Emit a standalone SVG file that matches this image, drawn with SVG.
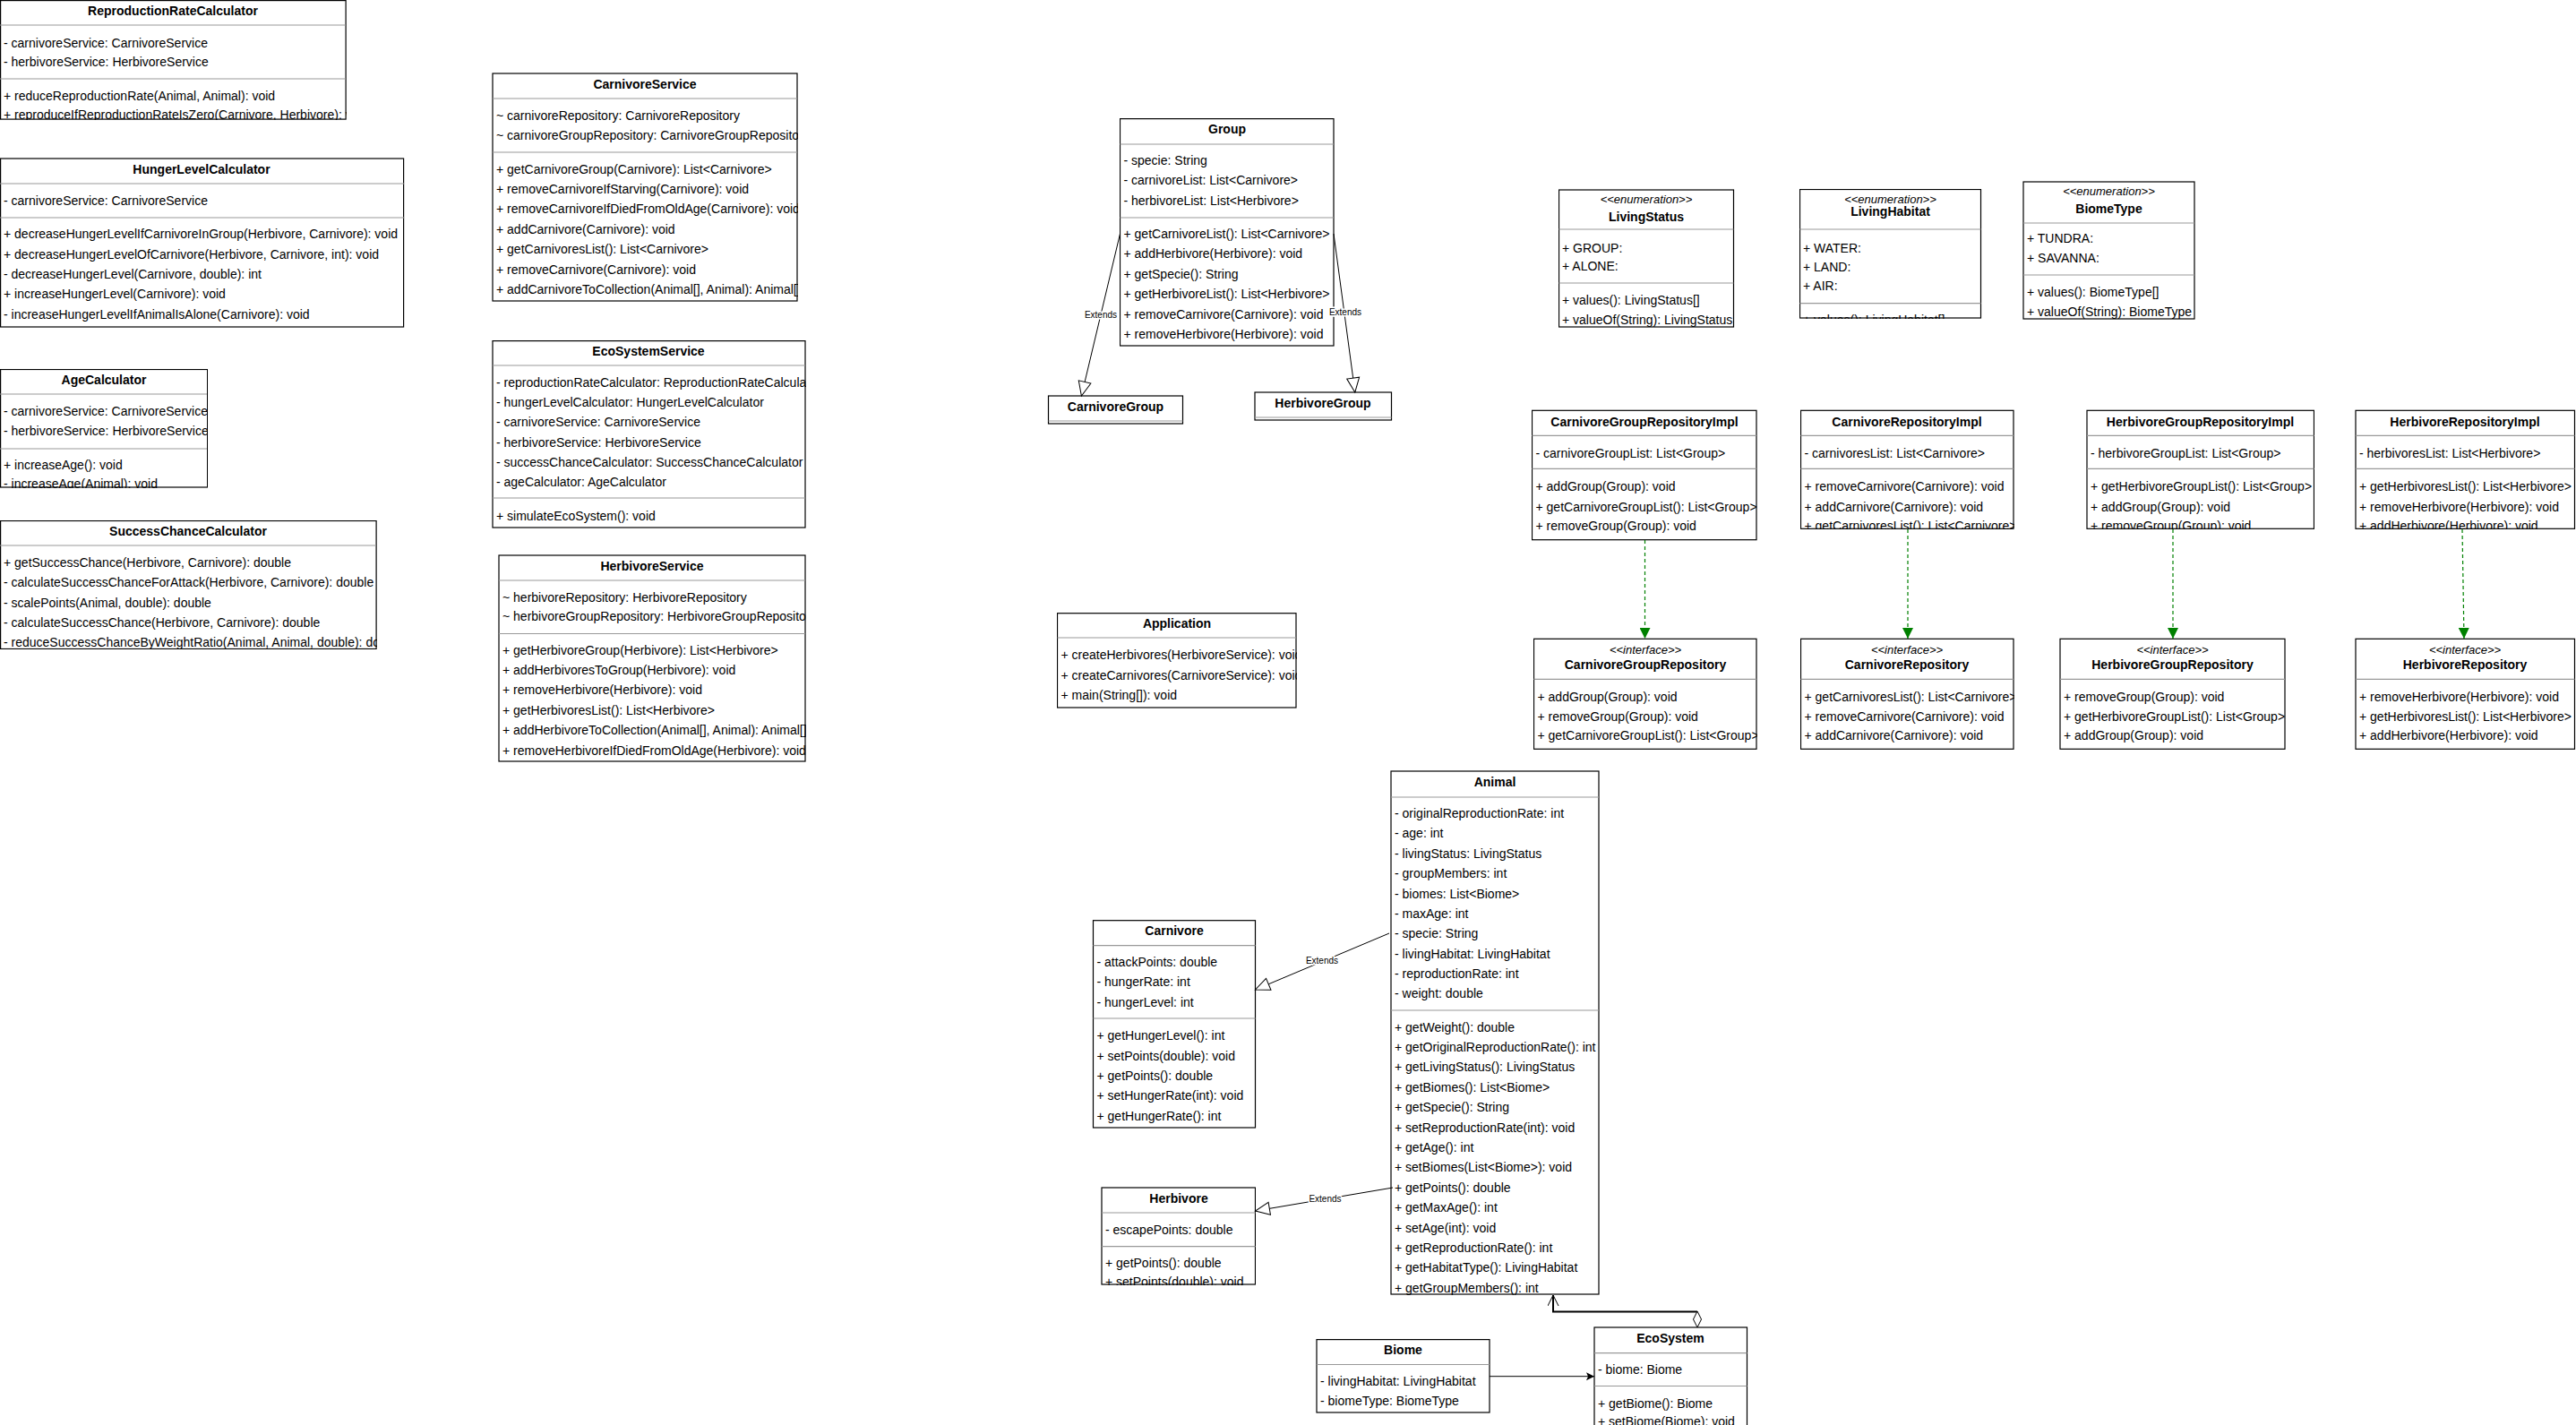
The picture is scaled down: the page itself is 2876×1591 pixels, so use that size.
<svg xmlns="http://www.w3.org/2000/svg" width="2876" height="1591" viewBox="0 0 2876 1591">
<style>
.b{fill:#fff;stroke:#000;stroke-width:1.2}
.d{stroke:#999;stroke-width:1.2}
text{font-family:"Liberation Sans",Arial,sans-serif;font-size:14px;fill:#000}
.h{font-weight:bold;text-anchor:middle}
.s{font-style:italic;text-anchor:middle;font-size:13px}
.c{stroke:#000;stroke-width:1;fill:none}
.g{stroke:#008000;stroke-width:1.2;stroke-dasharray:4 3;fill:none}
.l{font-size:10px;text-anchor:middle;stroke:#fff;stroke-width:3;paint-order:stroke}
</style>
<defs>
<marker id="tri" markerUnits="userSpaceOnUse" markerWidth="20" markerHeight="18" refX="17" refY="8" orient="auto"><path d="M1,1 L17,8 L1,15 z" fill="#fff" stroke="#000"/></marker>
<marker id="grn" markerUnits="userSpaceOnUse" markerWidth="14" markerHeight="12" refX="12" refY="6" orient="auto"><path d="M0,0 L12,6 L0,12 z" fill="#008000"/></marker>
<marker id="blk" markerUnits="userSpaceOnUse" markerWidth="10" markerHeight="10" refX="9" refY="4.5" orient="auto"><path d="M0,0 L9,4.5 L0,9 L2,4.5 z" fill="#000"/></marker>
<marker id="opn" markerUnits="userSpaceOnUse" markerWidth="14" markerHeight="14" refX="12" refY="6" orient="auto"><path d="M0,0 L12,6 L0,12" fill="none" stroke="#000"/></marker>
<clipPath id="k1"><rect x="0" y="0" width="387" height="134"/></clipPath>
<clipPath id="k2"><rect x="0" y="176" width="452" height="190"/></clipPath>
<clipPath id="k3"><rect x="0" y="412" width="232" height="133"/></clipPath>
<clipPath id="k4"><rect x="0" y="581" width="421" height="144"/></clipPath>
<clipPath id="k5"><rect x="549" y="81" width="342" height="256"/></clipPath>
<clipPath id="k6"><rect x="549" y="380" width="351" height="210"/></clipPath>
<clipPath id="k7"><rect x="556" y="619" width="344" height="232"/></clipPath>
<clipPath id="k8"><rect x="1180" y="684" width="268" height="107"/></clipPath>
<clipPath id="k9"><rect x="1740" y="211" width="197" height="155"/></clipPath>
<clipPath id="k10"><rect x="2009" y="211" width="204" height="145"/></clipPath>
<clipPath id="k11"><rect x="2258" y="202" width="194" height="155"/></clipPath>
<clipPath id="k12"><rect x="1710" y="457" width="252" height="147"/></clipPath>
<clipPath id="k13"><rect x="2010" y="457" width="239" height="134"/></clipPath>
<clipPath id="k14"><rect x="2329" y="457" width="255" height="134"/></clipPath>
<clipPath id="k15"><rect x="2629" y="457" width="247" height="134"/></clipPath>
<clipPath id="k16"><rect x="1712" y="712" width="250" height="125"/></clipPath>
<clipPath id="k17"><rect x="2010" y="712" width="239" height="125"/></clipPath>
<clipPath id="k18"><rect x="2299" y="712" width="253" height="125"/></clipPath>
<clipPath id="k19"><rect x="2629" y="712" width="247" height="125"/></clipPath>
<clipPath id="k20"><rect x="1552" y="860" width="234" height="586"/></clipPath>
<clipPath id="k21"><rect x="1229" y="1325" width="173" height="110"/></clipPath>
<clipPath id="k22"><rect x="1779" y="1481" width="173" height="120"/></clipPath>
<clipPath id="k23"><rect x="1219" y="1027" width="184" height="233"/></clipPath>
<clipPath id="k24"><rect x="1250" y="132" width="240" height="255"/></clipPath>
<clipPath id="k25"><rect x="1469" y="1495" width="195" height="83"/></clipPath>
</defs>

<g id="ReproductionRateCalculator" clip-path="url(#k1)">
<rect class="b" x="0.6" y="0.6" width="385.5" height="132.5"/>
<text class="h" x="193" y="17">ReproductionRateCalculator</text>
<line class="d" x1="0" y1="28" x2="386" y2="28"/>
<text x="4" y="52.5">- carnivoreService: CarnivoreService</text>
<text x="4" y="74">- herbivoreService: HerbivoreService</text>
<line class="d" x1="0" y1="88" x2="386" y2="88"/>
<text x="4" y="112">+ reduceReproductionRate(Animal, Animal): void</text>
<text x="4" y="133">+ reproduceIfReproductionRateIsZero(Carnivore, Herbivore): void</text>
</g>

<g id="HungerLevelCalculator" clip-path="url(#k2)">
<rect class="b" x="0.6" y="177" width="450" height="188"/>
<text class="h" x="225" y="194">HungerLevelCalculator</text>
<line class="d" x1="0" y1="205" x2="451" y2="205"/>
<text x="4" y="229">- carnivoreService: CarnivoreService</text>
<line class="d" x1="0" y1="243" x2="451" y2="243"/>
<text x="4" y="266">+ decreaseHungerLevelIfCarnivoreInGroup(Herbivore, Carnivore): void</text>
<text x="4" y="289">+ decreaseHungerLevelOfCarnivore(Herbivore, Carnivore, int): void</text>
<text x="4" y="311">- decreaseHungerLevel(Carnivore, double): int</text>
<text x="4" y="333">+ increaseHungerLevel(Carnivore): void</text>
<text x="4" y="356">- increaseHungerLevelIfAnimalIsAlone(Carnivore): void</text>
</g>

<g id="AgeCalculator" clip-path="url(#k3)">
<rect class="b" x="0.6" y="412.5" width="231" height="131.5"/>
<text class="h" x="116" y="428.5">AgeCalculator</text>
<line class="d" x1="0" y1="440" x2="231" y2="440"/>
<text x="4" y="464">- carnivoreService: CarnivoreService</text>
<text x="4" y="486">- herbivoreService: HerbivoreService</text>
<line class="d" x1="0" y1="501" x2="231" y2="501"/>
<text x="4" y="524">+ increaseAge(): void</text>
<text x="4" y="545">- increaseAge(Animal): void</text>
</g>

<g id="SuccessChanceCalculator" clip-path="url(#k4)">
<rect class="b" x="0.6" y="581.5" width="419.5" height="143"/>
<text class="h" x="210" y="597.5">SuccessChanceCalculator</text>
<line class="d" x1="0" y1="609" x2="420" y2="609"/>
<text x="4" y="633">+ getSuccessChance(Herbivore, Carnivore): double</text>
<text x="4" y="655">- calculateSuccessChanceForAttack(Herbivore, Carnivore): double</text>
<text x="4" y="678">- scalePoints(Animal, double): double</text>
<text x="4" y="700">- calculateSuccessChance(Herbivore, Carnivore): double</text>
<text x="4" y="722">- reduceSuccessChanceByWeightRatio(Animal, Animal, double): double</text>
</g>

<g id="CarnivoreService" clip-path="url(#k5)">
<rect class="b" x="550" y="82" width="340" height="254"/>
<text class="h" x="720" y="98.5">CarnivoreService</text>
<line class="d" x1="550" y1="110" x2="890" y2="110"/>
<text x="554" y="134">~ carnivoreRepository: CarnivoreRepository</text>
<text x="554" y="156">~ carnivoreGroupRepository: CarnivoreGroupRepository</text>
<line class="d" x1="550" y1="170" x2="890" y2="170"/>
<text x="554" y="194">+ getCarnivoreGroup(Carnivore): List&lt;Carnivore&gt;</text>
<text x="554" y="216">+ removeCarnivoreIfStarving(Carnivore): void</text>
<text x="554" y="238">+ removeCarnivoreIfDiedFromOldAge(Carnivore): void</text>
<text x="554" y="261">+ addCarnivore(Carnivore): void</text>
<text x="554" y="283">+ getCarnivoresList(): List&lt;Carnivore&gt;</text>
<text x="554" y="306">+ removeCarnivore(Carnivore): void</text>
<text x="554" y="328">+ addCarnivoreToCollection(Animal[], Animal): Animal[]</text>
</g>

<g id="EcoSystemService" clip-path="url(#k6)">
<rect class="b" x="550" y="380.6" width="349" height="208.4"/>
<text class="h" x="724" y="396.5">EcoSystemService</text>
<line class="d" x1="550" y1="408" x2="899" y2="408"/>
<text x="554" y="432">- reproductionRateCalculator: ReproductionRateCalculator</text>
<text x="554" y="454">- hungerLevelCalculator: HungerLevelCalculator</text>
<text x="554" y="476">- carnivoreService: CarnivoreService</text>
<text x="554" y="499">- herbivoreService: HerbivoreService</text>
<text x="554" y="521">- successChanceCalculator: SuccessChanceCalculator</text>
<text x="554" y="543">- ageCalculator: AgeCalculator</text>
<line class="d" x1="550" y1="556" x2="899" y2="556"/>
<text x="554" y="580.5">+ simulateEcoSystem(): void</text>
</g>

<g id="HerbivoreService" clip-path="url(#k7)">
<rect class="b" x="557" y="620" width="342" height="230"/>
<text class="h" x="728" y="636.5">HerbivoreService</text>
<line class="d" x1="557" y1="648" x2="899" y2="648"/>
<text x="561" y="672">~ herbivoreRepository: HerbivoreRepository</text>
<text x="561" y="693">~ herbivoreGroupRepository: HerbivoreGroupRepository</text>
<line class="d" x1="557" y1="707.5" x2="899" y2="707.5"/>
<text x="561" y="731">+ getHerbivoreGroup(Herbivore): List&lt;Herbivore&gt;</text>
<text x="561" y="753">+ addHerbivoresToGroup(Herbivore): void</text>
<text x="561" y="775">+ removeHerbivore(Herbivore): void</text>
<text x="561" y="798">+ getHerbivoresList(): List&lt;Herbivore&gt;</text>
<text x="561" y="820">+ addHerbivoreToCollection(Animal[], Animal): Animal[]</text>
<text x="561" y="842.5">+ removeHerbivoreIfDiedFromOldAge(Herbivore): void</text>
</g>

<g id="Group" clip-path="url(#k24)">
<rect class="b" x="1250.5" y="132.6" width="238.5" height="253.4"/>
<text class="h" x="1370" y="149">Group</text>
<line class="d" x1="1250.5" y1="161" x2="1489" y2="161"/>
<text x="1254.5" y="184">- specie: String</text>
<text x="1254.5" y="206">- carnivoreList: List&lt;Carnivore&gt;</text>
<text x="1254.5" y="229">- herbivoreList: List&lt;Herbivore&gt;</text>
<line class="d" x1="1250.5" y1="243" x2="1489" y2="243"/>
<text x="1254.5" y="266">+ getCarnivoreList(): List&lt;Carnivore&gt;</text>
<text x="1254.5" y="288">+ addHerbivore(Herbivore): void</text>
<text x="1254.5" y="311">+ getSpecie(): String</text>
<text x="1254.5" y="333">+ getHerbivoreList(): List&lt;Herbivore&gt;</text>
<text x="1254.5" y="356">+ removeCarnivore(Carnivore): void</text>
<text x="1254.5" y="378">+ removeHerbivore(Herbivore): void</text>
</g>

<g id="CarnivoreGroup">
<rect class="b" x="1170.5" y="442" width="150" height="31"/>
<text class="h" x="1245.5" y="459">CarnivoreGroup</text>
<line class="d" x1="1170.5" y1="470" x2="1320.5" y2="470"/>
</g>

<g id="HerbivoreGroup">
<rect class="b" x="1401" y="438" width="152.5" height="31"/>
<text class="h" x="1477" y="455">HerbivoreGroup</text>
<line class="d" x1="1401" y1="466" x2="1553.5" y2="466"/>
</g>

<g id="Application" clip-path="url(#k8)">
<rect class="b" x="1180.5" y="684.7" width="266.5" height="105.3"/>
<text class="h" x="1314" y="701">Application</text>
<line class="d" x1="1180.5" y1="712" x2="1447" y2="712"/>
<text x="1184.5" y="736">+ createHerbivores(HerbivoreService): void</text>
<text x="1184.5" y="758.5">+ createCarnivores(CarnivoreService): void</text>
<text x="1184.5" y="781">+ main(String[]): void</text>
</g>

<g id="LivingStatus" clip-path="url(#k9)">
<rect class="b" x="1740.5" y="212" width="195" height="153"/>
<text class="s" x="1838" y="226.5">&lt;&lt;enumeration&gt;&gt;</text>
<text class="h" x="1838" y="246.5">LivingStatus</text>
<line class="d" x1="1740.5" y1="256" x2="1935.5" y2="256"/>
<text x="1744" y="281.5">+ GROUP:</text>
<text x="1744" y="301.5">+ ALONE:</text>
<line class="d" x1="1740.5" y1="316" x2="1935.5" y2="316"/>
<text x="1744" y="340">+ values(): LivingStatus[]</text>
<text x="1744" y="362">+ valueOf(String): LivingStatus</text>
</g>

<g id="LivingHabitat" clip-path="url(#k10)">
<rect class="b" x="2009.5" y="211.5" width="202" height="143.5"/>
<text class="s" x="2110.5" y="226.5">&lt;&lt;enumeration&gt;&gt;</text>
<text class="h" x="2110.5" y="241">LivingHabitat</text>
<line class="d" x1="2009.5" y1="256" x2="2211.5" y2="256"/>
<text x="2013" y="281.5">+ WATER:</text>
<text x="2013" y="302.5">+ LAND:</text>
<text x="2013" y="323.5">+ AIR:</text>
<line class="d" x1="2009.5" y1="338.6" x2="2211.5" y2="338.6"/>
<text x="2013" y="361.5">+ values(): LivingHabitat[]</text>
</g>

<g id="BiomeType" clip-path="url(#k11)">
<rect class="b" x="2259" y="203" width="191" height="153"/>
<text class="s" x="2354.5" y="218">&lt;&lt;enumeration&gt;&gt;</text>
<text class="h" x="2354.5" y="237.5">BiomeType</text>
<line class="d" x1="2259" y1="249" x2="2450" y2="249"/>
<text x="2263" y="271">+ TUNDRA:</text>
<text x="2263" y="293">+ SAVANNA:</text>
<line class="d" x1="2259" y1="307" x2="2450" y2="307"/>
<text x="2263" y="331">+ values(): BiomeType[]</text>
<text x="2263" y="352.5">+ valueOf(String): BiomeType</text>
</g>

<g id="CarnivoreGroupRepositoryImpl" clip-path="url(#k12)">
<rect class="b" x="1710.5" y="458.3" width="250.5" height="144.4"/>
<text class="h" x="1836" y="475.5">CarnivoreGroupRepositoryImpl</text>
<line class="d" x1="1710.5" y1="486.3" x2="1961" y2="486.3"/>
<text x="1714.5" y="510.5">- carnivoreGroupList: List&lt;Group&gt;</text>
<line class="d" x1="1710.5" y1="523.3" x2="1961" y2="523.3"/>
<text x="1714.5" y="547.5">+ addGroup(Group): void</text>
<text x="1714.5" y="570.5">+ getCarnivoreGroupList(): List&lt;Group&gt;</text>
<text x="1714.5" y="592">+ removeGroup(Group): void</text>
</g>

<g id="CarnivoreRepositoryImpl" clip-path="url(#k13)">
<rect class="b" x="2010.5" y="458.3" width="237.5" height="132"/>
<text class="h" x="2129" y="475.5">CarnivoreRepositoryImpl</text>
<line class="d" x1="2010.5" y1="486.3" x2="2248" y2="486.3"/>
<text x="2014.5" y="510.5">- carnivoresList: List&lt;Carnivore&gt;</text>
<line class="d" x1="2010.5" y1="523.3" x2="2248" y2="523.3"/>
<text x="2014.5" y="547.5">+ removeCarnivore(Carnivore): void</text>
<text x="2014.5" y="570.5">+ addCarnivore(Carnivore): void</text>
<text x="2014.5" y="592">+ getCarnivoresList(): List&lt;Carnivore&gt;</text>
</g>

<g id="HerbivoreGroupRepositoryImpl" clip-path="url(#k14)">
<rect class="b" x="2330" y="458.3" width="253.5" height="132"/>
<text class="h" x="2456.5" y="475.5">HerbivoreGroupRepositoryImpl</text>
<line class="d" x1="2330" y1="486.3" x2="2583.5" y2="486.3"/>
<text x="2334" y="510.5">- herbivoreGroupList: List&lt;Group&gt;</text>
<line class="d" x1="2330" y1="523.3" x2="2583.5" y2="523.3"/>
<text x="2334" y="547.5">+ getHerbivoreGroupList(): List&lt;Group&gt;</text>
<text x="2334" y="570.5">+ addGroup(Group): void</text>
<text x="2334" y="592">+ removeGroup(Group): void</text>
</g>

<g id="HerbivoreRepositoryImpl" clip-path="url(#k15)">
<rect class="b" x="2630" y="458.3" width="244.5" height="132"/>
<text class="h" x="2752" y="475.5">HerbivoreRepositoryImpl</text>
<line class="d" x1="2630" y1="486.3" x2="2874.5" y2="486.3"/>
<text x="2634" y="510.5">- herbivoresList: List&lt;Herbivore&gt;</text>
<line class="d" x1="2630" y1="523.3" x2="2874.5" y2="523.3"/>
<text x="2634" y="547.5">+ getHerbivoresList(): List&lt;Herbivore&gt;</text>
<text x="2634" y="570.5">+ removeHerbivore(Herbivore): void</text>
<text x="2634" y="592">+ addHerbivore(Herbivore): void</text>
</g>

<g id="CarnivoreGroupRepository" clip-path="url(#k16)">
<rect class="b" x="1712.5" y="713.3" width="248.5" height="123"/>
<text class="s" x="1837" y="729.5">&lt;&lt;interface&gt;&gt;</text>
<text class="h" x="1837" y="747">CarnivoreGroupRepository</text>
<line class="d" x1="1712.5" y1="758.3" x2="1961" y2="758.3"/>
<text x="1716.5" y="782.5">+ addGroup(Group): void</text>
<text x="1716.5" y="804.5">+ removeGroup(Group): void</text>
<text x="1716.5" y="826">+ getCarnivoreGroupList(): List&lt;Group&gt;</text>
</g>

<g id="CarnivoreRepository" clip-path="url(#k17)">
<rect class="b" x="2010.5" y="713.3" width="237.5" height="123"/>
<text class="s" x="2129" y="729.5">&lt;&lt;interface&gt;&gt;</text>
<text class="h" x="2129" y="747">CarnivoreRepository</text>
<line class="d" x1="2010.5" y1="758.3" x2="2248" y2="758.3"/>
<text x="2014.5" y="782.5">+ getCarnivoresList(): List&lt;Carnivore&gt;</text>
<text x="2014.5" y="804.5">+ removeCarnivore(Carnivore): void</text>
<text x="2014.5" y="826">+ addCarnivore(Carnivore): void</text>
</g>

<g id="HerbivoreGroupRepository" clip-path="url(#k18)">
<rect class="b" x="2300" y="713.3" width="251" height="123"/>
<text class="s" x="2425.5" y="729.5">&lt;&lt;interface&gt;&gt;</text>
<text class="h" x="2425.5" y="747">HerbivoreGroupRepository</text>
<line class="d" x1="2300" y1="758.3" x2="2551" y2="758.3"/>
<text x="2304" y="782.5">+ removeGroup(Group): void</text>
<text x="2304" y="804.5">+ getHerbivoreGroupList(): List&lt;Group&gt;</text>
<text x="2304" y="826">+ addGroup(Group): void</text>
</g>

<g id="HerbivoreRepository" clip-path="url(#k19)">
<rect class="b" x="2630" y="713.3" width="244.5" height="123"/>
<text class="s" x="2752" y="729.5">&lt;&lt;interface&gt;&gt;</text>
<text class="h" x="2752" y="747">HerbivoreRepository</text>
<line class="d" x1="2630" y1="758.3" x2="2874.5" y2="758.3"/>
<text x="2634" y="782.5">+ removeHerbivore(Herbivore): void</text>
<text x="2634" y="804.5">+ getHerbivoresList(): List&lt;Herbivore&gt;</text>
<text x="2634" y="826">+ addHerbivore(Herbivore): void</text>
</g>

<g id="Animal" clip-path="url(#k20)">
<rect class="b" x="1553" y="861" width="232" height="584"/>
<text class="h" x="1669" y="877.5">Animal</text>
<line class="d" x1="1553" y1="890" x2="1785" y2="890"/>
<text x="1557" y="912.5">- originalReproductionRate: int</text>
<text x="1557" y="935">- age: int</text>
<text x="1557" y="958">- livingStatus: LivingStatus</text>
<text x="1557" y="980">- groupMembers: int</text>
<text x="1557" y="1002.5">- biomes: List&lt;Biome&gt;</text>
<text x="1557" y="1024.5">- maxAge: int</text>
<text x="1557" y="1047">- specie: String</text>
<text x="1557" y="1070">- livingHabitat: LivingHabitat</text>
<text x="1557" y="1092">- reproductionRate: int</text>
<text x="1557" y="1114">- weight: double</text>
<line class="d" x1="1553" y1="1128" x2="1785" y2="1128"/>
<text x="1557" y="1152">+ getWeight(): double</text>
<text x="1557" y="1174">+ getOriginalReproductionRate(): int</text>
<text x="1557" y="1196">+ getLivingStatus(): LivingStatus</text>
<text x="1557" y="1219">+ getBiomes(): List&lt;Biome&gt;</text>
<text x="1557" y="1241">+ getSpecie(): String</text>
<text x="1557" y="1264">+ setReproductionRate(int): void</text>
<text x="1557" y="1286">+ getAge(): int</text>
<text x="1557" y="1308">+ setBiomes(List&lt;Biome&gt;): void</text>
<text x="1557" y="1331">+ getPoints(): double</text>
<text x="1557" y="1353">+ getMaxAge(): int</text>
<text x="1557" y="1376">+ setAge(int): void</text>
<text x="1557" y="1397.5">+ getReproductionRate(): int</text>
<text x="1557" y="1420">+ getHabitatType(): LivingHabitat</text>
<text x="1557" y="1443">+ getGroupMembers(): int</text>
</g>

<g id="Carnivore" clip-path="url(#k23)">
<rect class="b" x="1220.5" y="1027.7" width="181" height="231.3"/>
<text class="h" x="1311" y="1043.5">Carnivore</text>
<line class="d" x1="1220.5" y1="1055.6" x2="1401.5" y2="1055.6"/>
<text x="1224.5" y="1079">- attackPoints: double</text>
<text x="1224.5" y="1101">- hungerRate: int</text>
<text x="1224.5" y="1124">- hungerLevel: int</text>
<line class="d" x1="1220.5" y1="1137" x2="1401.5" y2="1137"/>
<text x="1224.5" y="1161">+ getHungerLevel(): int</text>
<text x="1224.5" y="1183.5">+ setPoints(double): void</text>
<text x="1224.5" y="1206">+ getPoints(): double</text>
<text x="1224.5" y="1228">+ setHungerRate(int): void</text>
<text x="1224.5" y="1251">+ getHungerRate(): int</text>
</g>

<g id="Herbivore" clip-path="url(#k21)">
<rect class="b" x="1230" y="1326" width="171.5" height="108"/>
<text class="h" x="1316" y="1342.5">Herbivore</text>
<line class="d" x1="1230" y1="1354" x2="1401.5" y2="1354"/>
<text x="1234" y="1378">- escapePoints: double</text>
<line class="d" x1="1230" y1="1391.6" x2="1401.5" y2="1391.6"/>
<text x="1234" y="1415">+ getPoints(): double</text>
<text x="1234" y="1436">+ setPoints(double): void</text>
</g>

<g id="Biome" clip-path="url(#k25)">
<rect class="b" x="1470" y="1495.6" width="193" height="81.4"/>
<text class="h" x="1566.5" y="1511.5">Biome</text>
<line class="d" x1="1470" y1="1523.5" x2="1663" y2="1523.5"/>
<text x="1474" y="1547">- livingHabitat: LivingHabitat</text>
<text x="1474" y="1569">- biomeType: BiomeType</text>
</g>

<g id="EcoSystem" clip-path="url(#k22)">
<rect class="b" x="1780" y="1482" width="170.5" height="125"/>
<text class="h" x="1865" y="1498.5">EcoSystem</text>
<line class="d" x1="1780" y1="1510.7" x2="1950.5" y2="1510.7"/>
<text x="1784" y="1534">- biome: Biome</text>
<line class="d" x1="1780" y1="1547.5" x2="1950.5" y2="1547.5"/>
<text x="1784" y="1571.5">+ getBiome(): Biome</text>
<text x="1784" y="1592">+ setBiome(Biome): void</text>
</g>

<g id="connectors">
<line class="c" x1="1250.5" y1="261" x2="1207.4" y2="442" marker-end="url(#tri)"/>
<text class="l" x="1229" y="355">Extends</text>
<line class="c" x1="1489" y1="261" x2="1512.8" y2="438" marker-end="url(#tri)"/>
<text class="l" x="1502" y="352">Extends</text>
<line class="c" x1="1551" y1="1042" x2="1401.5" y2="1105" marker-end="url(#tri)"/>
<text class="l" x="1476" y="1076">Extends</text>
<line class="c" x1="1555" y1="1326" x2="1401.5" y2="1352" marker-end="url(#tri)"/>
<text class="l" x="1479.5" y="1342">Extends</text>
<line class="g" x1="1836.5" y1="603" x2="1836.5" y2="713" marker-end="url(#grn)"/>
<line class="g" x1="2130" y1="591" x2="2130" y2="713" marker-end="url(#grn)"/>
<line class="g" x1="2426" y1="591" x2="2426" y2="713" marker-end="url(#grn)"/>
<line class="g" x1="2749" y1="591" x2="2751" y2="713" marker-end="url(#grn)"/>
<line class="c" x1="1663" y1="1536.7" x2="1780" y2="1536.7" marker-end="url(#blk)"/>
<polyline class="c" style="stroke-width:2" points="1895,1464.5 1734,1464.5 1734,1446" marker-end="url(#opn)"/>
<path d="M1895,1464 L1899.5,1473 L1895,1482 L1890.5,1473 z" fill="#fff" stroke="#000"/>
</g>
</svg>
